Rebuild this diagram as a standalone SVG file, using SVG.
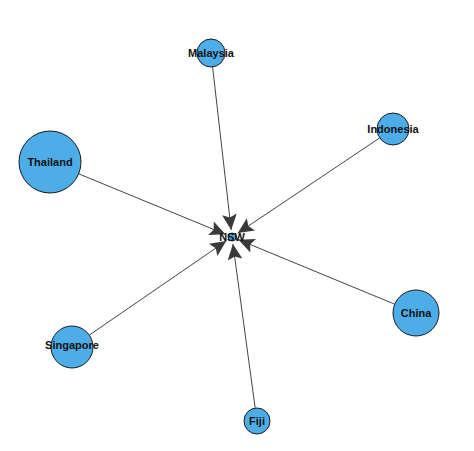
<svg xmlns="http://www.w3.org/2000/svg" width="474" height="451" viewBox="0 0 474 451">
<defs>
<marker id="arr" markerUnits="userSpaceOnUse" markerWidth="20" markerHeight="20" viewBox="-17 -9 19 18" refX="0" refY="0" orient="auto">
<path d="M0,0 L-15,-7 L-12,0 L-15,7 Z" fill="#3a3a3a"/>
</marker>
<style>
.node circle{fill:#4dade9;stroke:#1a1a1a;stroke-width:1}
.node text{font-family:"Liberation Sans",Arial,sans-serif;font-weight:bold;font-size:11px;fill:#111;text-anchor:middle;dominant-baseline:central}
.edge{stroke:#444;stroke-width:1;fill:none;marker-end:url(#arr)}
</style>
</defs>
<rect width="474" height="451" fill="#fff"/>
<g id="edges">
<line class="edge" x1="78.7" y1="173.8" x2="225.5" y2="234.3"/>
<line class="edge" x1="212.6" y1="66.9" x2="231.2" y2="230.0"/>
<line class="edge" x1="379.7" y1="137.9" x2="237.8" y2="233.1"/>
<line class="edge" x1="394.7" y1="304.2" x2="238.5" y2="239.7"/>
<line class="edge" x1="89.3" y1="335.1" x2="226.2" y2="241.0"/>
<line class="edge" x1="255.2" y1="408.1" x2="232.9" y2="243.9"/>
</g>
<g id="NSW" class="node"><circle cx="232" cy="237" r="4"/><text x="232" y="237">NSW</text></g>
<g id="Thailand" class="node"><circle cx="50" cy="162" r="31"/><text x="50" y="162">Thailand</text></g>
<g id="Malaysia" class="node"><circle cx="211" cy="53" r="14"/><text x="211" y="53">Malaysia</text></g>
<g id="Indonesia" class="node"><circle cx="393" cy="129" r="16"/><text x="393" y="129">Indonesia</text></g>
<g id="China" class="node"><circle cx="416" cy="313" r="23"/><text x="416" y="313">China</text></g>
<g id="Singapore" class="node"><circle cx="72" cy="347" r="21"/><text x="72" y="345">Singapore</text></g>
<g id="Fiji" class="node"><circle cx="257" cy="421" r="13"/><text x="257" y="421">Fiji</text></g>
</svg>
